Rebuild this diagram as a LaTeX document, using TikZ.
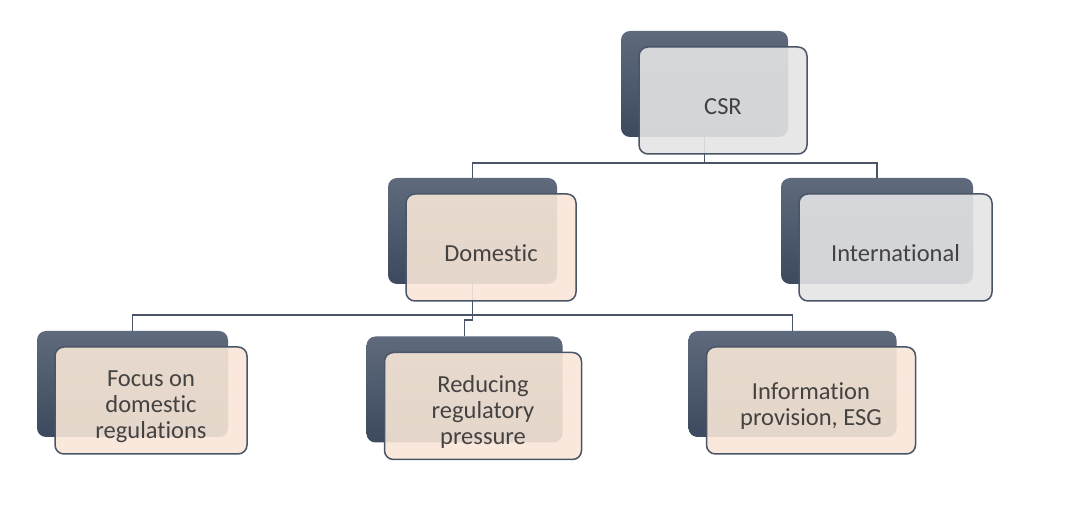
\documentclass[tikz,border=0pt]{standalone}
\usepackage{fontspec}
\setmainfont{Carlito}[Ligatures=CommonOff]
\usetikzlibrary{calc,backgrounds}
\definecolor{edgecol}{HTML}{4A5568}
\definecolor{backtop}{HTML}{5F6A7C}
\definecolor{backbot}{HTML}{3C495E}
\definecolor{grayfill}{HTML}{E4E4E5}
\definecolor{tanfill}{HTML}{F8E6D7}
\tikzset{
  backbox/.style={rounded corners=9pt, top color=backtop, bottom color=backbot, draw=none},
  frontbox/.style={rounded corners=9pt, draw=edgecol, line width=1.5pt, fill opacity=0.9,
    text=black!80, align=center, font=\fontsize{24.5}{26}\selectfont},
  link/.style={draw=edgecol, line width=1.8pt}
}
\newcommand{\stackbox}[7]{% #1 name, #2 x, #3 y, #4 width, #5 height, #6 fill, #7 text
  \begin{pgfonlayer}{background}
    \node[backbox, minimum width=#4pt, minimum height=#5pt] (#1B) at (#2,#3) {};
  \end{pgfonlayer}
  \node[frontbox, fill=#6, minimum width=#4pt+1pt, minimum height=#5pt+1pt] (#1) at ($(#1B)+(18.5,16.5)$) {\rule{0pt}{28pt}#7};
}

\begin{document}
\begin{tikzpicture}[x=1pt, y=-1pt]
  \useasboundingbox (0,0) rectangle (1072,518);
  \stackbox{csr}{704.5}{84}{167}{106}{grayfill}{CSR}
  \stackbox{dom}{472.5}{231}{169}{106}{tanfill}{Domestic}
  \stackbox{int}{877}{231}{192}{106}{grayfill}{International}
  \stackbox{foc}{132.5}{384}{191}{106}{tanfill}{Focus on\\domestic\\regulations}
  \stackbox{red}{464.5}{389.5}{196}{106}{tanfill}{Reducing\\regulatory\\pressure}
  \stackbox{inf}{792.5}{384}{208}{106}{tanfill}{Information\\provision, ESG}
  % links sit above the back boxes, below the front ones
  \begin{pgfonlayer}{background}
    \coordinate (cbus) at (704.5,163);
    \coordinate (dbus) at (472.5,315);
    \draw[link] (csrB.south) -- (cbus);
    \draw[link] (domB.north) |- (cbus) -| (intB.north);
    \draw[link] (domB.south) -- (dbus);
    \draw[link] (focB.north) |- (dbus) -| (infB.north);
    \draw[link] (redB.north) -- ++(0,-16) -| (dbus);
  \end{pgfonlayer}
\end{tikzpicture}
\end{document}
